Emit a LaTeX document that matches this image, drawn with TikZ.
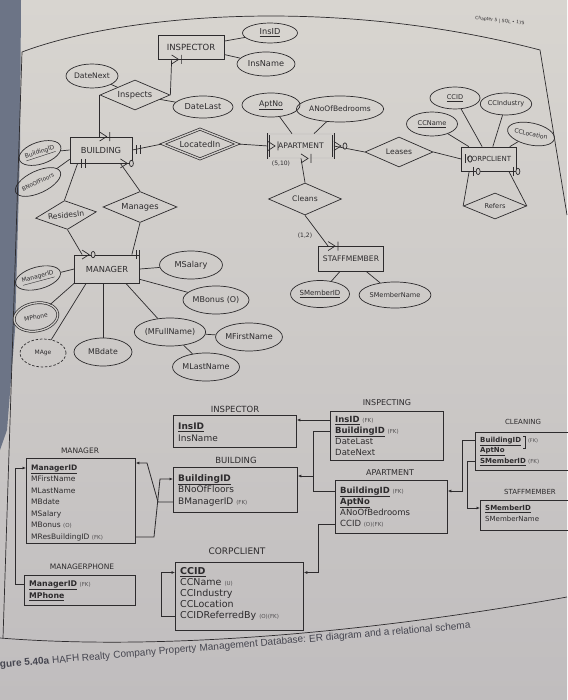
\documentclass[tikz,border=0pt]{standalone}
\usepackage{fontspec}
\setmainfont{DejaVu Sans}
\newfontfamily\capfont{Liberation Sans}
\usetikzlibrary{arrows.meta,shapes.geometric,decorations.markings,calc}
\definecolor{pagetop}{RGB}{216,213,208}
\definecolor{pagebot}{RGB}{192,189,190}
\definecolor{pagecol}{RGB}{206,203,200}
\definecolor{ink}{RGB}{45,43,45}
\definecolor{fkcol}{RGB}{80,78,80}
\definecolor{capcol}{RGB}{70,70,80}
\definecolor{pencil}{RGB}{108,116,134}
\newcommand\fs[1]{\fontsize{#1}{#1}\selectfont}
\newcommand\pkey[1]{\underline{\textbf{#1}}}
\newcommand\fknote[1]{{\fontsize{5.5}{6}\selectfont\color{fkcol}#1}}
\tikzset{
  ln/.style={draw=ink, line width=0.7pt},
  ent/.style={ln, rectangle, inner sep=0pt, font=\fs{8.3}, text=ink},
  attr/.style={ln, ellipse, inner sep=0pt, font=\fs{7.8}, text=ink},
  relship/.style={ln, diamond, aspect=2.5, inner sep=0pt, font=\fs{8.3}, text=ink},
  conn/.style={ln},
  cend/.style={postaction={decorate, decoration={markings, mark=at position 0.1pt with {\pic{#1};}}}},
  pics/crowbar/.style={code={\draw[ln] (0,-4.5) -- (7,0) -- (0,4.5) (10,-4.5) -- (10,4.5);}},
  pics/crowo/.style={code={\draw[ln] (0,-4.5) -- (7,0) -- (0,4.5); \draw[ln, fill=pagecol] (11,0) ellipse [x radius=2pt, y radius=3.2pt];}},
  pics/onlyone/.style={code={\draw[ln] (4,-4.5) -- (4,4.5) (7.5,-4.5) -- (7.5,4.5);}},
  pics/zeroone/.style={code={\draw[ln] (4,-4.5) -- (4,4.5); \draw[ln, fill=pagecol] (9,0) ellipse [x radius=2pt, y radius=3.2pt];}},
  tbox/.style={draw=ink, line width=0.8pt, rectangle, anchor=north west, inner sep=0pt},
  ttitle/.style={inner sep=0pt, text=ink},
  row/.style={anchor=west, inner sep=0pt, text height=6pt, text depth=1.5pt, text=ink},
  rel/.style={draw=ink, line width=0.8pt, -{Latex[length=3.5pt,width=3pt]}},
  relln/.style={draw=ink, line width=0.8pt},
  capt/.style={anchor=base west, rotate=4.8, inner sep=0pt, font=\capfont\fs{10}, text=capcol},
}
\begin{document}
\begin{tikzpicture}[x=1pt,y=-1pt]
\useasboundingbox (0,0) rectangle (567,700);
\shade[top color=pagetop, bottom color=pagebot] (0,0) rectangle (567,700);
\fill[pencil] (0,0) -- (21,0) -- (20,150) -- (15,330) -- (7,430) -- (0,450) -- cycle;
% page frame
\draw[ink, line width=0.7pt] (22,52) .. controls (120,15) and (330,-5) .. (540,50) -- (567,215);
\draw[ink, line width=0.7pt] (22,52) -- (3,638);
\draw[ink, line width=0.7pt] (0,638) .. controls (150,650) and (350,636) .. (567,597);
\node[ttitle, rotate=-6, font=\fs{4.5}] (hdr) at (500,21) {Chapter 5 | SQL • 175};

% ===== ER diagram =====
\node[ent, minimum width=66, minimum height=24, font=\fs{8.5}] (insp) at (191,47) {INSPECTOR};
\node[attr, minimum width=55, minimum height=20, font=\fs{8.2}] (insid) at (270,33) {\underline{InsID}};
\node[attr, minimum width=58, minimum height=24, font=\fs{8.2}] (insname) at (266,64) {InsName};
\node[attr, minimum width=52, minimum height=24, font=\fs{7.6}] (datenext) at (92,76) {DateNext};
\node[relship, minimum width=70, minimum height=30] (ins) at (135,95) {Inspects};
\node[attr, minimum width=60, minimum height=22, font=\fs{8.2}] (datelast) at (203,107) {DateLast};
\node[attr, minimum width=58, minimum height=24] (aptno) at (271,105) {\underline{AptNo}};
\node[attr, minimum width=70, minimum height=26, font=\fs{7.5}] (anob) at (340,109) {ANoOfBedrooms};
\node[ent, minimum width=62, minimum height=26] (bld) at (101,150) {BUILDING};
\node[attr, minimum width=40, minimum height=22, rotate=18, font=\fs{6}] (bid) at (40,153) {\underline{BuildingID}};
\node[attr, minimum width=40, minimum height=22, rotate=25, font=\fs{5.6}] (bnf) at (38,182) {BNoOfFloors};
\node[relship, minimum width=75, minimum height=30, double=pagecol, double distance=1.4pt] (loc) at (200,144) {LocatedIn};
\node[ent, minimum width=65, minimum height=24, double=pagecol, double distance=1.3pt, font=\fs{7.6}] (apt) at (301,146) {APARTMENT};
\node[relship, minimum width=68, minimum height=30, font=\fs{7.6}] (lea) at (399,152) {Leases};
\node[ent, minimum width=55, minimum height=24, font=\fs{7}] (cc) at (489,159) {CORPCLIENT};
\node[attr, minimum width=50, minimum height=22, font=\fs{6.6}] (ccid) at (455,98) {\underline{CCID}};
\node[attr, minimum width=48, minimum height=22, font=\fs{6.6}] (ccind) at (506,104) {CCIndustry};
\node[attr, minimum width=51, minimum height=24, font=\fs{6.6}] (ccname) at (432,124) {\underline{CCName}};
\node[attr, minimum width=46, minimum height=22, rotate=-12, font=\fs{6}] (ccloc) at (531,134) {CCLocation};
\node[relship, minimum width=63, minimum height=26, font=\fs{6.6}] (ref) at (495,206) {Refers};
\node[relship, minimum width=73, minimum height=32, font=\fs{7.6}] (cle) at (305,199) {Cleans};
\node[ent, minimum width=65, minimum height=25, font=\fs{7.6}] (sm) at (351,259) {STAFFMEMBER};
\node[attr, minimum width=59, minimum height=27, font=\fs{7}] (smid) at (320,294) {\underline{SMemberID}};
\node[attr, minimum width=68, minimum height=26, font=\fs{6.6}] (smname) at (395,295) {SMemberName};
\node[relship, minimum width=61, minimum height=29, rotate=6, font=\fs{7.6}] (res) at (66,215) {ResidesIn};
\node[relship, minimum width=74, minimum height=31] (man) at (140,207) {Manages};
\node[ent, minimum width=65, minimum height=28] (mgr) at (107,269) {MANAGER};
\node[attr, minimum width=40, minimum height=22, rotate=15, font=\fs{6}] (mid) at (38,278) {\underline{ManagerID}};
\node[attr, minimum width=44, minimum height=28, rotate=10, double=pagecol, double distance=1.3pt, font=\fs{6}] (mph) at (36,317) {MPhone};
\node[attr, minimum width=46, minimum height=28, dashed, dash pattern=on 2.5pt off 1.8pt, font=\fs{6}] (mage) at (43,353) {MAge};
\node[attr, minimum width=58, minimum height=28] (mbd) at (103,352) {MBdate};
\node[attr, minimum width=63, minimum height=28, font=\fs{8.2}] (msal) at (191,265) {MSalary};
\node[attr, minimum width=66, minimum height=28, font=\fs{8}] (mbon) at (216,300) {MBonus (O)};
\node[attr, minimum width=64, minimum height=28, font=\fs{8}] (mfull) at (170,332) {(MFullName)};
\node[attr, minimum width=65, minimum height=28, font=\fs{8}] (mfirst) at (249,337) {MFirstName};
\node[attr, minimum width=67, minimum height=28, font=\fs{8}] (mlast) at (206,367) {MLastName};
\node[ttitle, font=\fs{6}] (l510) at (281,164) {(5,10)};
\node[ttitle, font=\fs{6}] (l12) at (305,236) {(1,2)};

% attribute lines
\draw[conn] (insp) -- (insid);
\draw[conn] (insp) -- (insname);
\draw[conn] (datenext) -- (ins);
\draw[conn] (datelast) -- (ins);
\draw[conn] (apt) -- (aptno);
\draw[conn] (apt) -- (anob);
\draw[conn] (bld.west) -- (bid);
\draw[conn] ([yshift=4pt]bld.south west) -- (bnf);
\draw[conn] (cc) -- (ccid);
\draw[conn] (cc) -- (ccind);
\draw[conn] (cc) -- (ccname);
\draw[conn] (cc) -- (ccloc);
\draw[conn] (sm) -- (smid);
\draw[conn] (sm) -- (smname);
\draw[conn] (mgr.west) -- (mid);
\draw[conn] (mgr.south west) -- (mph);
\draw[conn] ([xshift=12pt]mgr.south west) -- (mage);
\draw[conn] (mbd |- mgr.south) -- (mbd);
\draw[conn] ([xshift=-14pt]mgr.south east) -- (mfull);
\draw[conn] (mgr.east) -- (msal);
\draw[conn] ([yshift=4pt]mgr.south east) -- (mbon);
\draw[conn] (mfull) -- (mfirst);
\draw[conn] (mfull) -- (mlast);

% relationship lines with cardinalities
\draw[conn, cend=crowbar] ([xshift=14pt]insp.south west) -- (ins.east);
\draw[conn, cend=crowbar] ([xshift=30pt]bld.north west) -- (ins.west);
\draw[conn, cend=onlyone] (bld.east) -- (loc.west);
\draw[conn, cend=crowbar] (apt.west) -- (loc.east);
\draw[conn, cend=crowo] (apt.east) -- (lea.west);
\draw[conn, cend=zeroone] (cc.west) -- (lea.east);
\draw[conn, cend=zeroone] ([xshift=8pt]cc.south west) -- (ref.west);
\draw[conn, cend=zeroone] ([xshift=-8pt]cc.south east) -- (ref.east);
\draw[conn, cend=crowbar] (apt.south) -- (cle.north);
\draw[conn, cend=crowbar] ([xshift=10pt]sm.north west) -- (cle.south);
\draw[conn, cend=onlyone] ([xshift=8pt]bld.south west) -- (res.north);
\draw[conn, cend=crowo] ([xshift=-12pt]bld.south east) -- (man.north);
\draw[conn, cend=crowo] ([xshift=8pt]mgr.north west) -- (res.south);
\draw[conn, cend=onlyone] ([xshift=-8pt]mgr.north east) -- (man.south);

% ===== relational schema =====
% INSPECTOR
\node[tbox, minimum width=123, minimum height=32] (tINS) at (173,415) {};
\node[ttitle, font=\fs{8.5}] (hINS) at (235,409) {INSPECTOR};
\node[row, font=\fs{9}] (ins1) at (178,427) {\pkey{InsID}};
\node[row, font=\fs{9}] (ins2) at (178,439) {InsName};
% INSPECTING
\node[tbox, minimum width=113, minimum height=49] (tING) at (330,411) {};
\node[ttitle, font=\fs{8}] (hING) at (387,403) {INSPECTING};
\node[row, font=\fs{8.5}] (ing1) at (335,420) {\pkey{InsID} \fknote{(FK)}};
\node[row, font=\fs{8.5}] (ing2) at (335,431) {\pkey{BuildingID} \fknote{(FK)}};
\node[row, font=\fs{8.5}] (ing3) at (335,442) {DateLast};
\node[row, font=\fs{8.5}] (ing4) at (335,453) {DateNext};
% BUILDING
\node[tbox, minimum width=124, minimum height=45] (tBLD) at (173,467) {};
\node[ttitle, font=\fs{8.5}] (hBLD) at (236,460) {BUILDING};
\node[row, font=\fs{9}] (bld1) at (178,479) {\pkey{BuildingID}};
\node[row, font=\fs{9}] (bld2) at (178,490.5) {BNoOfFloors};
\node[row, font=\fs{9}] (bld3) at (178,502) {BManagerID \fknote{(FK)}};
% APARTMENT
\node[tbox, minimum width=112, minimum height=53] (tAPT) at (335,480) {};
\node[ttitle, font=\fs{8}] (hAPT) at (390,473) {APARTMENT};
\node[row, font=\fs{8.5}] (apt1) at (340,491) {\pkey{BuildingID} \fknote{(FK)}};
\node[row, font=\fs{8.5}] (apt2) at (340,502) {\pkey{AptNo}};
\node[row, font=\fs{8.5}] (apt3) at (340,513) {ANoOfBedrooms};
\node[row, font=\fs{8.5}] (apt4) at (340,524.5) {CCID \fknote{(O)(FK)}};
% MANAGER
\node[tbox, minimum width=109, minimum height=85] (tMGR) at (26,458) {};
\node[ttitle, font=\fs{7.5}] (hMGR) at (80,451) {MANAGER};
\node[row, font=\fs{7.5}] (mgr1) at (31,468) {\pkey{ManagerID}};
\node[row, font=\fs{7.5}] (mgr2) at (31,479.5) {MFirstName};
\node[row, font=\fs{7.5}] (mgr3) at (31,491) {MLastName};
\node[row, font=\fs{7.5}] (mgr4) at (31,502.5) {MBdate};
\node[row, font=\fs{7.5}] (mgr5) at (31,514) {MSalary};
\node[row, font=\fs{7.5}] (mgr6) at (31,525.5) {MBonus \fknote{(O)}};
\node[row, font=\fs{7.5}] (mgr7) at (31,537) {MResBuildingID \fknote{(FK)}};
% MANAGERPHONE
\node[tbox, minimum width=111, minimum height=30] (tMP) at (24,575) {};
\node[ttitle, font=\fs{7.5}] (hMP) at (82,567) {MANAGERPHONE};
\node[row, font=\fs{7.8}] (mp1) at (29,584) {\pkey{ManagerID} \fknote{(FK)}};
\node[row, font=\fs{7.8}] (mp2) at (29,596) {\pkey{MPhone}};
% CORPCLIENT
\node[tbox, minimum width=128, minimum height=68] (tCC) at (175,562) {};
\node[ttitle, font=\fs{9}] (hCC) at (237,551) {CORPCLIENT};
\node[row, font=\fs{9.5}] (cc1) at (180,572.5) {\pkey{CCID}};
\node[row, font=\fs{9.5}] (cc2) at (180,583.5) {CCName \fknote{(U)}};
\node[row, font=\fs{9.5}] (cc3) at (180,594.5) {CCIndustry};
\node[row, font=\fs{9.5}] (cc4) at (180,605.5) {CCLocation};
\node[row, font=\fs{9.5}] (cc5) at (180,616.5) {CCIDReferredBy \fknote{(O)(FK)}};
% CLEANING
\node[tbox, minimum width=100, minimum height=38] (tCLN) at (475,432) {};
\node[ttitle, font=\fs{7}] (hCLN) at (523,422) {CLEANING};
\node[row, font=\fs{7}] (cln1) at (480,440) {\pkey{BuildingID}};
\node[row, font=\fs{7}] (cln2) at (480,450.5) {\pkey{AptNo}};
\node[row, font=\fs{7}] (cln3) at (480,461) {\pkey{SMemberID} \fknote{(FK)}};
\draw[ink, line width=0.5pt] ($(cln1.east)+(1.5,-3.5)$) -- ++(2.5,0) -- ++(0,12) -- ++(-2.5,0);
\node[row, font=\fs{5}, text=fkcol] (clnfk) at ($(cln1.east)+(6.5,0)$) {(FK)};
% STAFFMEMBER
\node[tbox, minimum width=95, minimum height=30] (tSM) at (480,500) {};
\node[ttitle, font=\fs{7}] (hSM) at (530,492) {STAFFMEMBER};
\node[row, font=\fs{7}] (sm1) at (485,508) {\pkey{SMemberID}};
\node[row, font=\fs{7}] (sm2) at (485,519) {SMemberName};

% referential arrows
\draw[rel] (tING.west |- ing1) -- (tINS.east |- ing1);
\coordinate (jB) at (313,476);
\draw[relln] (tING.west |- ing2) -| (jB);
\draw[relln] (jB) |- (tAPT.west |- apt1);
\draw[rel] (jB) -- (tBLD.east |- jB);
\coordinate (xa) at (158,0);
\coordinate (xb) at (147,463);
\draw[rel] (tBLD.west |- bld3) -- (xa |- bld3) -- (xb) -- (tMGR.east |- xb);
\coordinate (xc) at (154,0);
\coordinate (xd) at (160,0);
\draw[rel] (tMGR.east |- mgr7) -- (xc |- mgr7) -- (xd |- bld1) -- (tBLD.west |- bld1);
\coordinate (mpL) at (15,0);
\draw[rel] (tMP.west |- mp1) -- (mpL |- mp1) -- (mpL |- mgr1) -- (tMGR.west |- mgr1);
\coordinate (ccR) at (318,0);
\draw[rel] (tAPT.west |- apt4) -- (ccR |- apt4) -- (ccR |- cc1) -- (tCC.east |- cc1);
\coordinate (ccL) at (161,0);
\draw[rel] (tCC.west |- cc5) -- (ccL |- cc5) -- (ccL |- cc1) -- (tCC.west |- cc1);
\coordinate (clA) at (462,0);
\draw[rel] (tCLN.west |- cln1) -- (clA |- cln1) -- (clA |- apt1) -- (tAPT.east |- apt1);
\coordinate (clB) at (467,0);
\draw[rel] (tCLN.west |- cln3) -- (clB |- cln3) -- (clB |- sm1) -- (tSM.west |- sm1);

% caption (in pieces along one rising baseline)
\node[capt] (cap1) at (0,668) {\textbf{gure 5.40a} HAFH Realty};
\node[capt] (cap2) at (cap1.base east) {\kern0.278em Company Property};
\node[capt] (cap3) at (cap2.base east) {\kern0.278em Management Database:};
\node[capt] (cap4) at (cap3.base east) {\kern0.278em ER diagram and a relational schema};
\end{tikzpicture}
\end{document}
